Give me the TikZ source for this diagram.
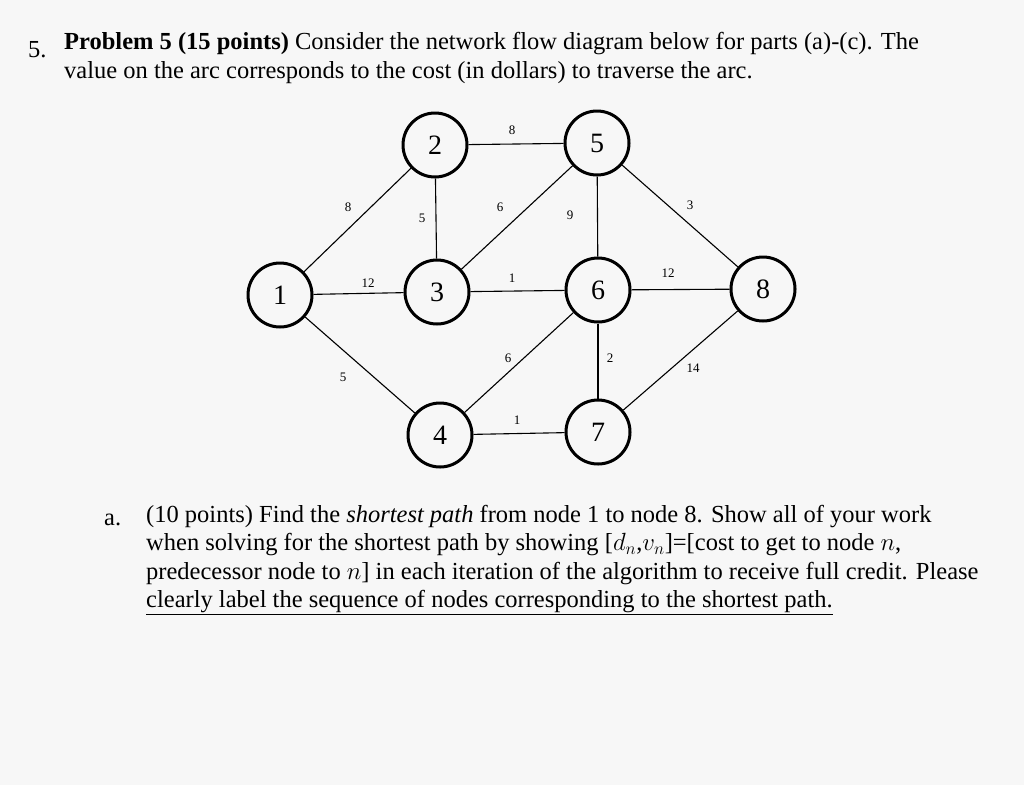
\documentclass[tikz,border=0pt]{standalone}
\usepackage{fontspec}
\setmainfont{Liberation Serif}
\begin{document}
\begin{tikzpicture}[x=1pt,y=-1pt,
  vert/.style={circle,draw,line width=3pt,minimum size=64pt,inner sep=0pt,font=\fontsize{28}{28}\selectfont},
  arc/.style={line width=1.1pt},
  lab/.style={font=\fontsize{13}{13}\selectfont},
  txt/.style={anchor=west,align=left,font=\fontsize{24.5}{28.5}\selectfont,inner sep=0pt}]
\fill[gray!6] (0,0) rectangle (1024,785);
\useasboundingbox (0,0) rectangle (1024,785);
\node[vert] (n1) at (280,295) {1};
\node[vert] (n2) at (435,145) {2};
\node[vert] (n5) at (597,143) {5};
\node[vert] (n3) at (437,292) {3};
\node[vert] (n6) at (598,290) {6};
\node[vert] (n8) at (763,289) {8};
\node[vert] (n4) at (440,435) {4};
\node[vert] (n7) at (598,432) {7};
\draw[arc] (n1)--(n2); \draw[arc] (n1)--(n3); \draw[arc] (n1)--(n4);
\draw[arc] (n2)--(n5); \draw[arc] (n2)--(n3); \draw[arc] (n3)--(n5);
\draw[arc] (n5)--(n6); \draw[arc] (n3)--(n6); \draw[arc] (n4)--(n6);
\draw[arc] (n6)--(n7); \draw[arc] (n4)--(n7); \draw[arc] (n5)--(n8);
\draw[arc] (n6)--(n8); \draw[arc] (n7)--(n8);
\node[lab] (l12) at (348,207) {8};
\node[lab] (l13) at (368,283) {12};
\node[lab] (l14) at (343,377) {5};
\node[lab] (l25) at (512,130) {8};
\node[lab] (l23) at (422,218) {5};
\node[lab] (l35) at (500,207) {6};
\node[lab] (l56) at (570,215) {9};
\node[lab] (l36) at (512,278) {1};
\node[lab] (l58) at (690,205) {3};
\node[lab] (l68) at (668,273) {12};
\node[lab] (l46) at (508,358) {6};
\node[lab] (l67) at (610,358) {2};
\node[lab] (l78) at (693,368) {14};
\node[lab] (l47) at (517,420) {1};
\node[txt] (num) at (28,50) {5.};
\node[txt] (title) at (64,58) {\textbf{Problem 5 (15 points)} Consider the network flow diagram below for parts (a)-(c). The\\value on the arc corresponds to the cost (in dollars) to traverse the arc.};
\node[txt] (a) at (104,520) {a.};
\node[txt] (para) at (146,560) {(10 points) Find the \textit{shortest path} from node 1 to node 8. Show all of your work\\when solving for the shortest path by showing [$d_n$,$v_n$]=[cost to get to node $n$,\\predecessor node to $n$] in each iteration of the algorithm to receive full credit. Please\\\underline{clearly label the sequence of nodes corresponding to the shortest path.}};
\end{tikzpicture}
\end{document}
